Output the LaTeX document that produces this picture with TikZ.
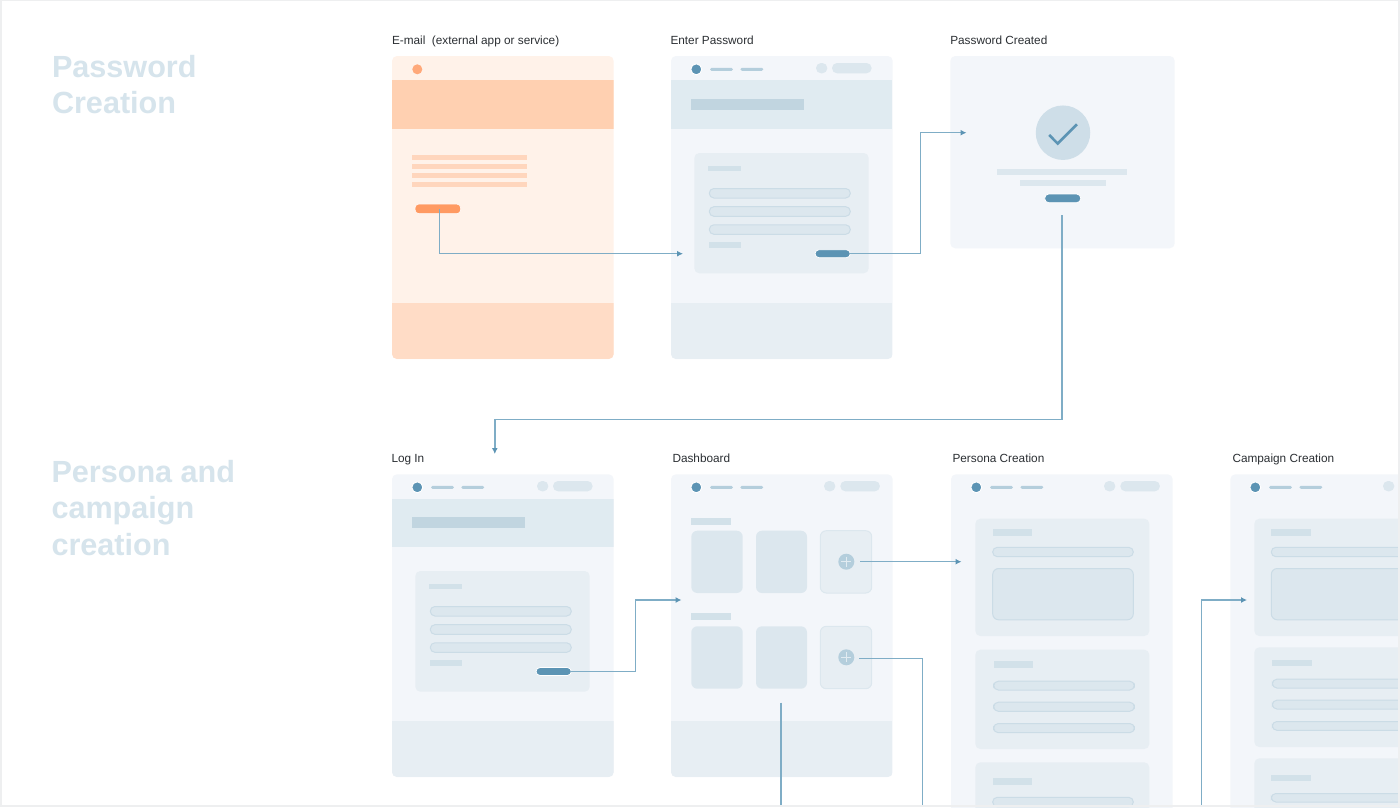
\documentclass[tikz,border=0pt]{standalone}
\usepackage{fontspec}
\setmainfont{Liberation Sans}
\usetikzlibrary{arrows.meta}
\definecolor{pagec}{HTML}{FFFFFF}
\definecolor{edgec}{HTML}{EEEFF0}
\definecolor{framec}{HTML}{F3F6FA}
\definecolor{footc}{HTML}{E7EEF3}
\definecolor{bandc}{HTML}{E0EBF1}
\definecolor{titlec}{HTML}{C1D5E0}
\definecolor{labelc}{HTML}{D2E1E9}
\definecolor{softc}{HTML}{DCE7EE}
\definecolor{inpc}{HTML}{CBDCE6}
\definecolor{navc}{HTML}{B4CEDC}
\definecolor{btnc}{HTML}{5C94B4}
\definecolor{linkc}{HTML}{7FADC6}
\definecolor{headc}{HTML}{D6E4EC}
\definecolor{textc}{HTML}{2B2F33}
\definecolor{oframe}{HTML}{FFF2E9}
\definecolor{oband}{HTML}{FFD0B1}
\definecolor{ofoot}{HTML}{FFDCC6}
\definecolor{oline}{HTML}{FFD6BD}
\definecolor{obtn}{HTML}{FF9A62}
\tikzset{
  x=1pt,y=-1pt,
  blk/.style={inner sep=0pt,outer sep=0pt,anchor=north west,rectangle},
  screen/.style={blk,fill=framec,rounded corners=5pt},
  oscreen/.style={blk,fill=oframe,rounded corners=5pt},
  band/.style={blk,fill=bandc},
  foot/.style={blk,fill=footc},
  cardbox/.style={blk,fill=footc,rounded corners=5pt},
  titlebar/.style={blk,fill=titlec},
  lab/.style={blk,fill=labelc},
  inp/.style={blk,fill=softc,draw=inpc,line width=1pt,rounded corners=4.6pt},
  bigbox/.style={blk,fill=softc,draw=inpc,line width=1pt,rounded corners=6pt},
  tile/.style={blk,fill=softc,rounded corners=6pt},
  addtile/.style={blk,fill=footc,draw=softc,line width=1pt,rounded corners=6pt},
  nav/.style={blk,fill=navc,rounded corners=1.5pt},
  roundbit/.style={blk,fill=softc,rounded corners=5pt},
  dot/.style={circle,inner sep=0pt,outer sep=0pt,minimum size=11pt,fill=btnc,draw=white,line width=1pt},
  btn/.style={blk,fill=btnc,draw=white,line width=0.8pt,rounded corners=4pt},
  obutton/.style={blk,fill=obtn,draw=white,line width=0.5pt,rounded corners=4pt},
  caption/.style={anchor=base west,inner sep=0pt,outer sep=0pt,text=textc,font=\fontsize{11.8}{13}\selectfont},
  heading/.style={anchor=north west,inner sep=0pt,outer sep=0pt,text=headc,align=left,font=\fontsize{30.6}{36.2}\selectfont\bfseries},
  link/.style={draw=linkc,line width=1.4pt,-{Latex[length=6pt,width=6pt,color=btnc]}},
  plainlink/.style={draw=linkc,line width=1.4pt},
}
% \rrect{name}{style}{x1}{y1}{x2}{y2}
\newcommand{\rrect}[6]{%
  \pgfmathsetmacro{\rw}{(#5)-(#3)}\pgfmathsetmacro{\rh}{(#6)-(#4)}%
  \node[#2,minimum width=\rw pt,minimum height=\rh pt] (#1) at (#3,#4) {};}
% header of a screen: \navbar{prefix}{dot x}{nav1 x}{nav2 x}{round x}{pill x}{y}
\newcommand{\navbar}[7]{%
  \node[dot] (#1dot) at (#2,#7) {};
  \rrect{#1na}{nav}{#3}{#7-1.5}{#3+23}{#7+1.5}
  \rrect{#1nb}{nav}{#4}{#7-1.5}{#4+23}{#7+1.5}
  \rrect{#1ra}{roundbit}{#5}{#7-6.3}{#5+11.3}{#7+4}
  \rrect{#1pi}{roundbit}{#6}{#7-6.3}{#6+39.6}{#7+4}}
\begin{document}
\begin{tikzpicture}
\useasboundingbox (0,0) rectangle (1400,807);
\clip (0,0) rectangle (1400,807);
\fill[pagec] (0,0) rectangle (1400,807);

% headings
\node[heading] (h1) at (52,55.5) {Password\\Creation};
\node[heading] (h2) at (51.5,460.5) {Persona and\\campaign\\creation};

% captions
\node[caption] (c1) at (392,44.5) {E-mail\ \ (external app or service)};
\node[caption] (c2) at (670.5,44.5) {Enter Password};
\node[caption] (c3) at (950.3,44.5) {Password Created};
\node[caption] (c4) at (391.5,462.5) {Log In};
\node[caption] (c5) at (672.5,462.5) {Dashboard};
\node[caption] (c6) at (952.5,462.5) {Persona Creation};
\node[caption] (c7) at (1232.5,462.5) {Campaign Creation};

% E-mail screen
\rrect{s1}{oscreen}{392}{56}{613.7}{359}
\begin{scope}
\clip[rounded corners=5pt] (392,56) rectangle (613.7,359);
\rrect{s1band}{blk,fill=oband}{392}{80.3}{613.7}{128.7}
\rrect{s1foot}{blk,fill=ofoot}{392}{303}{613.7}{359}
\end{scope}
\node[dot,fill=obtn!85!white,draw=none,minimum size=10pt] (s1dot) at (417.3,69.3) {};
\rrect{s1la}{blk,fill=oline}{412}{155}{527}{160}
\rrect{s1lb}{blk,fill=oline}{412}{164}{527}{169}
\rrect{s1lc}{blk,fill=oline}{412}{173}{527}{178}
\rrect{s1ld}{blk,fill=oline}{412}{182}{527}{187}
\rrect{s1btn}{obutton}{415}{204}{460.7}{213.7}

% Enter Password screen
\rrect{s2}{screen}{671}{56}{892.7}{359}
\begin{scope}
\clip[rounded corners=5pt] (671,56) rectangle (892.7,359);
\rrect{s2band}{band}{671}{80.3}{892.7}{128.7}
\rrect{s2foot}{foot}{671}{303}{892.7}{359}
\end{scope}
\navbar{s2}{696.3}{710}{740.3}{816}{832}{69.3}
\rrect{s2title}{titlebar}{691}{99.3}{804}{110.3}
\rrect{s2card}{cardbox}{694.3}{153}{868.7}{273.3}
\rrect{s2lab}{lab}{708.3}{166}{741}{171}
\rrect{s2ia}{inp}{709.3}{188.5}{850.3}{198}
\rrect{s2ib}{inp}{709.3}{206.7}{850.3}{216.3}
\rrect{s2ic}{inp}{709.3}{224.8}{850.3}{234.3}
\rrect{s2lb}{lab}{709.3}{242.3}{740.7}{247.7}
\rrect{s2btn}{btn}{815}{249.7}{850.3}{257.7}

% Password Created screen
\rrect{s3}{screen}{950.3}{56}{1174.7}{248.3}
\node[circle,inner sep=0pt,outer sep=0pt,minimum size=54.5pt,fill=inpc!80!softc] (s3check) at (1063,132.7) {};
\draw[draw=btnc,line width=2.6pt] (1049.2,135) -- (1057.7,143.6) -- (1077,124.3);
\rrect{s3la}{blk,fill=softc}{997.3}{169}{1127.3}{175}
\rrect{s3lb}{blk,fill=softc}{1019.7}{180}{1106.3}{186}
\rrect{s3btn}{btn}{1044.7}{194}{1080.7}{202.7}

% Log In screen
\rrect{s4}{screen}{392}{474.3}{613.7}{777}
\begin{scope}
\clip[rounded corners=5pt] (392,474.3) rectangle (613.7,777);
\rrect{s4band}{band}{392}{498.7}{613.7}{546.7}
\rrect{s4foot}{foot}{392}{721}{613.7}{777}
\end{scope}
\navbar{s4}{417.3}{431}{461.3}{537}{553}{487.3}
\rrect{s4title}{titlebar}{412}{517.3}{525}{528.3}
\rrect{s4card}{cardbox}{415.3}{571}{589.7}{691.7}
\rrect{s4lab}{lab}{429.3}{584}{462}{589}
\rrect{s4ia}{inp}{430.3}{606.5}{571.3}{616}
\rrect{s4ib}{inp}{430.3}{624.7}{571.3}{634.3}
\rrect{s4ic}{inp}{430.3}{642.8}{571.3}{652.3}
\rrect{s4lb}{lab}{430.3}{660.3}{461.7}{665.7}
\rrect{s4btn}{btn}{536}{667.5}{571.3}{675.5}

% Dashboard screen
\rrect{s5}{screen}{671}{474.3}{892.7}{777}
\begin{scope}
\clip[rounded corners=5pt] (671,474.3) rectangle (892.7,777);
\rrect{s5foot}{foot}{671}{721}{892.7}{777}
\end{scope}
\navbar{s5}{696.3}{710}{740.3}{824}{840.3}{487.3}
\rrect{s5la}{lab}{691}{517.7}{730.7}{524.7}
\rrect{s5ta}{tile}{691.3}{530.7}{742.7}{593}
\rrect{s5tb}{tile}{756}{530.7}{807}{593}
\rrect{s5tc}{addtile}{820.3}{530.7}{871.7}{593}
\rrect{s5lb}{lab}{691}{613.3}{730.7}{620.3}
\rrect{s5td}{tile}{691.3}{626.3}{742.7}{688.7}
\rrect{s5te}{tile}{756}{626.3}{807}{688.7}
\rrect{s5tf}{addtile}{820.3}{626.3}{871.7}{688.7}
\node[circle,inner sep=0pt,outer sep=0pt,minimum size=16pt,fill=navc] (plusa) at (846.3,561.7) {};
\node[circle,inner sep=0pt,outer sep=0pt,minimum size=16pt,fill=navc] (plusb) at (846.3,657.3) {};
\draw[white!60!navc,line width=1pt] (841.3,561.7) -- (851.3,561.7) (846.3,556.7) -- (846.3,566.7);
\draw[white!60!navc,line width=1pt] (841.3,657.3) -- (851.3,657.3) (846.3,652.3) -- (846.3,662.3);

% Persona Creation screen
\rrect{s6}{screen}{951}{474.3}{1172.7}{830}
\navbar{s6}{976.3}{990}{1020.3}{1104}{1120.3}{487.3}
\rrect{s6ca}{cardbox}{975.3}{518.7}{1149.3}{636}
\rrect{s6la}{lab}{992.7}{529}{1031.7}{535.7}
\rrect{s6ia}{inp}{992.7}{547.3}{1133.3}{556.7}
\rrect{s6box}{bigbox}{992.7}{568.5}{1133.3}{619.8}
\rrect{s6cb}{cardbox}{975.3}{649.7}{1149.3}{749}
\rrect{s6lb}{lab}{993.7}{661.3}{1032.7}{668}
\rrect{s6ib}{inp}{993.7}{681.2}{1134.3}{690}
\rrect{s6ic}{inp}{993.7}{702.2}{1134.3}{711.3}
\rrect{s6id}{inp}{993.7}{723.5}{1134.3}{732.7}
\rrect{s6cc}{cardbox}{975.3}{762.3}{1149.3}{860}
\rrect{s6lc}{lab}{992.7}{778.3}{1031.7}{785}
\rrect{s6ie}{inp}{992.7}{797.3}{1133.3}{806.7}

% Campaign Creation screen
\rrect{s7}{screen}{1230.3}{474.3}{1452}{830}
\navbar{s7}{1255.3}{1269}{1299.3}{1383}{1399.5}{487.3}
\rrect{s7ca}{cardbox}{1254.3}{518.7}{1428}{636}
\rrect{s7la}{lab}{1271.3}{529}{1310.7}{535.7}
\rrect{s7ia}{inp}{1271.3}{547.3}{1412}{556.7}
\rrect{s7box}{bigbox}{1271.3}{568.5}{1412}{619.8}
\rrect{s7cb}{cardbox}{1254.3}{647.3}{1428}{747}
\rrect{s7lb}{lab}{1272.3}{659.7}{1311.7}{666}
\rrect{s7ib}{inp}{1272.3}{679.2}{1413}{688}
\rrect{s7ic}{inp}{1272.3}{700.2}{1413}{709}
\rrect{s7id}{inp}{1272.3}{721.5}{1413}{730.3}
\rrect{s7cc}{cardbox}{1254.3}{758.3}{1428}{860}
\rrect{s7lc}{lab}{1271.3}{774.7}{1310.7}{781.3}
\rrect{s7ie}{inp}{1271.3}{793.5}{1412}{802}

% connector end points
\coordinate (a1s) at (439.3,209);
\coordinate (a1) at (683,253.7);
\coordinate (a2) at (966.5,132.7);
\coordinate (a3s) at (1062,215.3);
\coordinate (a3) at (494.8,454);
\coordinate (a4) at (681.5,600);
\coordinate (a5s) at (860.3,561.7);
\coordinate (a5) at (961.5,561.7);
\coordinate (a6s) at (859.3,658.7);
\coordinate (a6e) at (922.7,807);
\coordinate (a7s) at (781,702.7);
\coordinate (a7e) at (781,807);
\coordinate (a8s) at (1201.7,807);
\coordinate (a8) at (1247,600);

% connectors
\draw[link] (a1s) |- (a1);
\draw[link] (s2btn.east) -| (920.7,132.7) -- (a2);
\draw[link] (a3s) |- (494.8,419.7) -- (a3);
\draw[link] (s4btn.east) -| (635.7,600) -- (a4);
\draw[link] (a5s) -- (a5);
\draw[plainlink] (a6s) -| (a6e);
\draw[plainlink] (a7s) -- (a7e);
\draw[link] (a8s) |- (a8);

% outer edge of the picture
\draw[edgec,line width=2pt] (0.5,0) -- (0.5,807);
\draw[edgec,line width=1.2pt] (0,0.4) -- (1400,0.4);
\draw[edgec,line width=2pt] (1399.2,0) -- (1399.2,807);
\draw[edgec,line width=2.4pt] (0,806) -- (1400,806);
\end{tikzpicture}
\end{document}
